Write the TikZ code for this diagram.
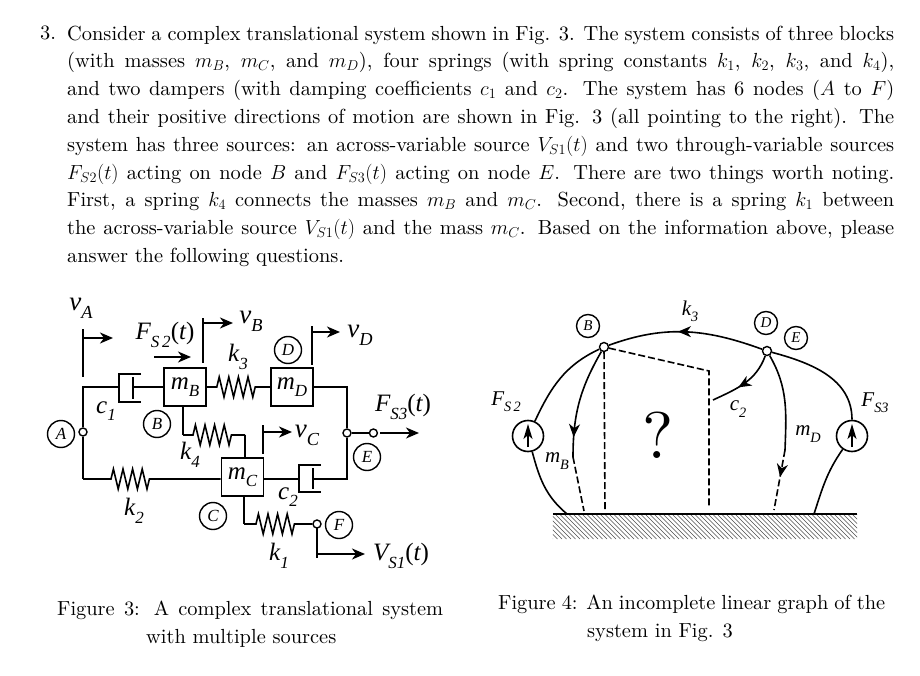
\documentclass[tikz,border=0pt]{standalone}
\usepackage{fix-cm}
\usepackage{amsmath}
\usepackage{fontspec}
\usepackage{tikz}
\usetikzlibrary{positioning, arrows.meta, decorations.pathmorphing, decorations.markings}
\setmainfont{lmroman10-regular}[Extension=.otf, ItalicFont=lmroman10-italic]
\newfontfamily\figfont{Liberation Serif}
\newcommand{\figsub}[1]{\raisebox{-.3em}{\scalebox{.68}{#1}}}
\tikzset{
>={Stealth[length=13pt, width=11pt, inset=4pt]}, % makes the arrow heads bold
node distance=107pt, % centre to centre distance of the two upper masses
wire/.style={line width=1.6pt}, % every connector of both figures
mass/.style={draw, line width=1.6pt, minimum width=42pt, minimum height=38pt, inner sep=0pt},
junction/.style={circle, draw, line width=1.4pt, fill=white, inner sep=0pt, minimum size=8pt},
nodename/.style={circle, draw, line width=1.4pt, inner sep=0pt, minimum size=27pt, font=\fontsize{17}{17}\selectfont\figfont\itshape},
smallname/.style={nodename, minimum size=23pt, font=\fontsize{15}{15}\selectfont\figfont\itshape},
source/.style={circle, draw, line width=1.6pt, inner sep=0pt, minimum size=31pt},
biglabel/.style={inner sep=0pt, font=\fontsize{25}{25}\selectfont\figfont\itshape},
vlabel/.style={inner sep=0pt, font=\fontsize{27}{27}\selectfont\figfont\itshape},
smalllabel/.style={inner sep=0pt, font=\fontsize{21}{21}\selectfont\figfont\itshape},
spring/.style={wire, decorate, decoration={zigzag, segment length=9.6pt, amplitude=10pt, pre length=#1, post length=14pt}},
ground/.style={minimum width=304pt, minimum height=25pt, inner sep=0pt},
hatchline/.style={line width=.5pt, black!70},
arrowat/.style={postaction={decorate}, decoration={markings, mark=at position #1 with {\arrow{>}}}},
dashedwire/.style={wire, dashed, dash pattern=on 7pt off 3pt},
questiontext/.style={anchor=north west, inner sep=0pt, text width=827pt, align=justify, font=\fontsize{20.4}{27.8}\selectfont},
captiontext/.style={anchor=base west, inner sep=0pt, font=\fontsize{20.4}{27.8}\selectfont},
}
\begin{document}
\begin{tikzpicture}[x=1pt, y=-1pt]
    \useasboundingbox (0,0) rectangle (920,676);
    % the question
    \node[captiontext] (qnum) at (40,40) {3.};
    \node[questiontext] (qtext) at (67,25.5) {Consider a complex translational system shown in Fig. 3. The system consists of three blocks\linebreak
    (with masses $m_B$, $m_C$, and $m_D$), four springs (with spring constants $k_1$, $k_2$, $k_3$, and $k_4$),\linebreak
    and two dampers (with damping coefficients $c_1$ and $c_2$. The system has 6 nodes ($A$ to $F$)\linebreak
    and their positive directions of motion are shown in Fig. 3 (all pointing to the right). The\linebreak
    system has three sources: an across-variable source $V_{S1}(t)$ and two through-variable sources\linebreak
    $F_{S2}(t)$ acting on node $B$ and $F_{S3}(t)$ acting on node $E$. There are two things worth noting.\linebreak
    First, a spring $k_4$ connects the masses $m_B$ and $m_C$. Second, there is a spring $k_1$ between\linebreak
    the across-variable source $V_{S1}(t)$ and the mass $m_C$. Based on the information above, please\linebreak
    answer the following questions.};

    % left figure: masses and terminals
    \node[mass] (mB) at (185,387) {\figfont\fontsize{25}{25}\selectfont\itshape m\figsub{B}};
    \node[mass, right of=mB] (mD) {\figfont\fontsize{25}{25}\selectfont\itshape m\figsub{D}};
    \node[mass] (mC) at (242.5,477) {\figfont\fontsize{25}{25}\selectfont\itshape m\figsub{C}};
    \node[junction] (nA) at (83,432) {};
    \node[junction] (nE) at (347,433) {};
    \node[junction, right=17pt of nE] (nEout) {};
    \node[junction] (nF) at (317,524) {};
    \node[nodename] (nameA) at (61,434) {A};
    \node[nodename] (nameB) at (157,424) {B};
    \node[nodename] (nameC) at (213,516) {C};
    \node[nodename] (nameD) at (288,350) {D};
    \node[nodename] (nameE) at (367,457) {E};
    \node[nodename] (nameF) at (339,525) {F};
    \coordinate (cornerA) at (83,387);
    \coordinate (cornerAlow) at (83,479);
    \coordinate (cornerE) at (347,387);
    \coordinate (cornerElow) at (347,479);
    \coordinate (cOneIn) at (119,387);
    \coordinate (cOneRod) at (133,387);
    \coordinate (cTwoIn) at (299,479);
    \coordinate (cTwoRod) at (313,479);
    \coordinate (kFourL) at (183,435);
    \coordinate (kFourR) at (245,435);
    \coordinate (kOneL) at (244,524);
    \coordinate (fThreeA) at (380,433);
    \coordinate (fThreeB) at (419,433);
    \coordinate (fTwoA) at (154,357);
    \coordinate (fTwoB) at (191,357);

    % left figure: connectors
    \draw[wire] (nA) -- (cornerA) -- (cOneIn);
    \draw[wire] (nA) -- (cornerAlow);
    \draw[wire] (cOneRod) -- (mB.west);
    \draw[wire] (mD.east) -- (cornerE) -- (nE) -- (cornerElow) -- (cTwoRod);
    \draw[wire] (mC.east |- cTwoIn) -- (cTwoIn);
    \draw[wire] (nE) -- (nEout);
    \draw[wire, ->] (fThreeA) -- (fThreeB);
    \draw[wire, ->] (fTwoA) -- (fTwoB);
    \draw[spring=10pt] (mB.east) -- (mD.west);
    \draw[spring=28pt, decoration={post length=69pt}] (cornerAlow) -- (mC.west |- cornerAlow);
    \draw[wire] (kFourL |- mB.south) -- (kFourL);
    \draw[spring=10pt, decoration={post length=13pt}] (kFourL) -- (kFourR);
    \draw[wire] (kFourR) -- (kFourR |- mC.north);
    \draw[wire] (kOneL |- mC.south) -- (kOneL);
    \draw[spring=12pt, decoration={post length=16pt}] (kOneL) -- (nF.west);

    % dampers
    \foreach \xl/\xp/\xr/\yt/\yb in {119/133/141/374/402, 299/313/321/465/492} {
        \draw[wire] (\xr,\yt) -- (\xl,\yt) -- (\xl,\yb) -- (\xr,\yb);
        \draw[wire] (\xp,\yt+3) -- (\xp,\yb-3);
    }

    % velocity flags
    \foreach \nm/\xs/\yt/\yb/\ya/\xa in {A/83/329/377/338/113, B/203/318/363/323/233, D/312/326/365/332/340, C/263/425/454/432/292, F/317/527/558/554/365} {
        \coordinate (flag\nm top) at (\xs,\yt);
        \coordinate (flag\nm bot) at (\xs,\yb);
        \coordinate (flag\nm in) at (\xs,\ya);
        \coordinate (flag\nm tip) at (\xa,\ya);
        \draw[wire] (flag\nm top) -- (flag\nm bot);
        \draw[wire, ->] (flag\nm in) -- (flag\nm tip);
    }

    % left figure: labels
    \node[vlabel] (vA) at (81,308) {v\figsub{A}};
    \node[vlabel] (vB) at (251,321) {v\figsub{B}};
    \node[vlabel] (vC) at (307,435) {v\figsub{C}};
    \node[vlabel] (vD) at (360,335) {v\figsub{D}};
    \node[biglabel] (cOne) at (106,411) {c\figsub{1}};
    \node[biglabel] (cTwo) at (288,497) {c\figsub{2}};
    \node[biglabel] (kOne) at (279,556) {k\figsub{1}};
    \node[biglabel] (kTwo) at (134,511) {k\figsub{2}};
    \node[biglabel] (kThree) at (238,357) {k\figsub{3}};
    \node[biglabel] (kFour) at (190,455) {k\figsub{4}};
    \node[biglabel] (fsTwo) at (165,335) {F\figsub{S\,2}{\upshape(}t{\upshape)}};
    \node[biglabel] (fsThree) at (403,407) {F\figsub{S3}{\upshape(}t{\upshape)}};
    \node[biglabel] (vsOne) at (401,556) {V\figsub{S1}{\upshape(}t{\upshape)}};

    % right figure: nodes
    \node[ground] (gnd) at (705,526.5) {};
    \node[junction, minimum size=9pt] (nB) at (604,347) {};
    \node[junction, minimum size=9pt] (nD) at (767,351) {};
    \node[source] (srcB) at (528,436) {};
    \node[source] (srcE) at (852,436) {};
    \node[smallname] (circB) at (588,326) {B};
    \node[smallname] (circD) at (766,323) {D};
    \node[smallname] (circE) at (796,338) {E};
    \coordinate (gndB) at (567,514);
    \coordinate (gndE) at (814,514);
    \coordinate (mBsolid) at (573,457);
    \coordinate (mBend) at (584,511);
    \coordinate (mDsolid) at (785,450);
    \coordinate (mDend) at (774,510);
    \coordinate (nBdown) at (605,511);
    \coordinate (qCorner) at (709,371);
    \coordinate (qEnd) at (709,508);
    \coordinate (cTwoEnd) at (713,400);

    % ground hatching
    \begin{scope}
        \clip (gnd.north west) rectangle (gnd.south east);
        \foreach \i in {0,...,74} {
            \draw[hatchline] (528+\i*4.5,514) -- ++(25,25);
        }
    \end{scope}

    % right figure: edges
    \draw[wire] (gnd.north west) -- (gnd.north east);
    \draw[wire] (nB) to[out=205, in=65] (srcB);
    \draw[wire] (srcB) to[out=-75, in=140] (gndB);
    \draw[wire, arrowat=.82] (nB) to[out=240, in=90] (mBsolid);
    \draw[dashedwire] (mBsolid) -- (mBend);
    \draw[dashedwire] (nB) -- (nBdown);
    \draw[dashedwire] (nB) -- (qCorner) -- (qEnd);
    \draw[wire, arrowat=.55] (nD) to[out=160, in=20] (nB);
    \draw[wire, arrowat=.6] (nD) to[out=250, in=25] (cTwoEnd);
    \draw[wire] (nD) to[out=-60, in=88] (mDsolid);
    \draw[dashedwire, arrowat=.45] (mDsolid) -- (mDend);
    \draw[wire] (nD) to[out=-15, in=90] (srcE);
    \draw[wire] (srcE) to[out=-125, in=72] (gndE);
    \draw[wire, ->, >={Stealth[length=15pt, width=9pt, inset=4pt]}] ([yshift=-11pt]srcB.center) -- ([yshift=12pt]srcB.center);
    \draw[wire, ->, >={Stealth[length=15pt, width=9pt, inset=4pt]}] ([yshift=-11pt]srcE.center) -- ([yshift=12pt]srcE.center);

    % right figure: labels
    \node[smalllabel] (fsTwoR) at (506,402) {F\figsub{S\,2}};
    \node[smalllabel] (fsThreeR) at (875,403) {F\figsub{S3}};
    \node[smalllabel] (mBlabel) at (557,461) {m\figsub{B}};
    \node[smalllabel] (mDlabel) at (808,434) {m\figsub{D}};
    \node[smalllabel] (cTwoR) at (738,409) {c\figsub{2}};
    \node[smalllabel] (kThreeR) at (690,311) {k\figsub{3}};
    \node[inner sep=0pt, font=\fontsize{66}{66}\selectfont] (qmark) at (658,435) {?};

    % captions
    \node[captiontext] (capThree) at (57,615) {\makebox[386pt][s]{Figure 3: A complex translational system}};
    \node[captiontext] (capThreeB) at (146,643) {with multiple sources};
    \node[captiontext] (capFour) at (498,609) {\makebox[387pt][s]{Figure 4: An incomplete linear graph of the}};
    \node[captiontext] (capFourB) at (587,637) {system in Fig. 3};
\end{tikzpicture}
\end{document}
